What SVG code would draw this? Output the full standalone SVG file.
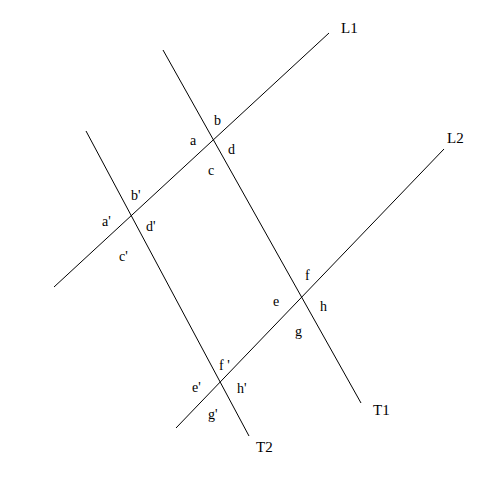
<svg xmlns="http://www.w3.org/2000/svg" width="482" height="491" viewBox="0 0 482 491">
<style>
.ln{stroke:#000;stroke-width:1;fill:none}
text{font-family:"Liberation Serif","Times New Roman",serif;fill:#000}
.big{font-size:15px}
.sm{font-size:14px}
</style>
<rect width="482" height="491" fill="#fff"/>
<g id="connectors">
<line id="L1" class="ln" x1="54" y1="287" x2="329" y2="33"/>
<line id="L2" class="ln" x1="176" y1="428" x2="444" y2="149"/>
<line id="T1" class="ln" x1="163" y1="50" x2="361" y2="403"/>
<line id="T2" class="ln" x1="86" y1="131" x2="249" y2="436"/>
</g>
<g id="labels-lines">
<text class="big" x="341" y="33">L1</text>
<text class="big" x="447" y="143">L2</text>
<text class="big" x="373" y="415">T1</text>
<text class="big" x="256" y="452">T2</text>
</g>
<g id="node-top" class="sm">
<text x="214" y="125">b</text>
<text x="190" y="145">a</text>
<text x="228" y="154">d</text>
<text x="208" y="175">c</text>
</g>
<g id="node-left" class="sm">
<text x="131" y="200">b'</text>
<text x="102" y="226">a'</text>
<text x="146" y="231">d'</text>
<text x="119" y="261">c'</text>
</g>
<g id="node-right" class="sm">
<text x="305" y="280">f</text>
<text x="273" y="306">e</text>
<text x="320" y="311">h</text>
<text x="295" y="336">g</text>
</g>
<g id="node-bottom" class="sm">
<text x="219" y="370">f '</text>
<text x="192" y="392">e'</text>
<text x="237" y="393">h'</text>
<text x="208" y="419">g'</text>
</g>
</svg>
